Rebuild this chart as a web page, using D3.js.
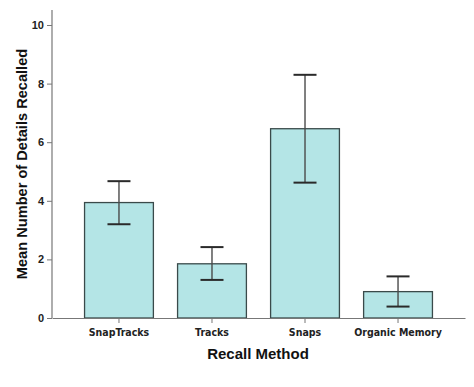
<!DOCTYPE html>
<html>
<head>
<meta charset="utf-8">
<script src="https://cdn.jsdelivr.net/npm/d3@7"></script>
<style>
body { margin: 0; background: #fff; }
text { font-family: "Liberation Sans", Arial, sans-serif; }
</style>
</head>
<body>
<script>
const methods = ["SnapTracks", "Tracks", "Snaps", "Organic Memory"]
const means = [3.94, 1.85, 6.46, 0.9]
const errLow = [3.2, 1.3, 4.62, 0.39]
const errHigh = [4.67, 2.42, 8.3, 1.42]
const yTicks = [0, 2, 4, 6, 8, 10]

const w = 474
const h = 387
const padL = 52, padR = 465, padT = 10, padB = 318

const svg = d3.select("body").append("svg").attr("width", w).attr("height", h)

const x = d3.scaleBand().domain(methods).range([padL, padR]).paddingInner(0.26).paddingOuter(0.35)
const y = d3.scaleLinear().domain([0, 10]).range([padB, 25])

const data = methods.map((m, i) => ({m: m, v: means[i], lo: errLow[i], hi: errHigh[i]}))

// bars
svg.selectAll("rect.bar").data(data).enter().append("rect").attr("class", "bar")
  .attr("x", d => x(d.m)).attr("y", d => y(d.v))
  .attr("width", x.bandwidth()).attr("height", d => y(0) - y(d.v))
  .attr("fill", "#b4e5e6").attr("stroke", "#3a4a4a").attr("stroke-width", 1.3)

// error bars
const eb = svg.selectAll("g.err").data(data).enter().append("g").attr("class", "err")
  .attr("transform", d => "translate(" + (x(d.m) + x.bandwidth() / 2) + ",0)")
eb.append("line").attr("x1", 0).attr("x2", 0).attr("y1", d => y(d.hi)).attr("y2", d => y(d.lo))
  .attr("stroke", "#4a4a4a").attr("stroke-width", 1.4)
eb.append("line").attr("x1", -11.5).attr("x2", 11.5).attr("y1", d => y(d.hi)).attr("y2", d => y(d.hi))
  .attr("stroke", "#2a2a2a").attr("stroke-width", 2)
eb.append("line").attr("x1", -11.5).attr("x2", 11.5).attr("y1", d => y(d.lo)).attr("y2", d => y(d.lo))
  .attr("stroke", "#2a2a2a").attr("stroke-width", 2)

// y axis
const ya = svg.append("g").attr("transform", "translate(" + padL + ",0)")
  .call(d3.axisLeft(y).tickValues(yTicks).tickSize(5).tickPadding(3))
ya.select(".domain").remove()
ya.append("line").attr("x1", 0).attr("x2", 0).attr("y1", padT).attr("y2", padB).attr("stroke", "#777").attr("stroke-width", 1.2)
ya.selectAll(".tick line").attr("stroke", "#777")
ya.selectAll(".tick text").attr("font-size", 11).attr("font-weight", "bold").attr("fill", "#222")
  .style("font-family", "'Liberation Sans', Arial, sans-serif")

// x axis
const xa = svg.append("g").attr("transform", "translate(0," + padB + ")")
  .call(d3.axisBottom(x).tickSize(5).tickPadding(6).tickSizeOuter(0))
xa.select(".domain").attr("stroke", "#777").attr("stroke-width", 1.2)
xa.selectAll(".tick line").attr("stroke", "#777")
xa.selectAll(".tick text").attr("font-size", 10.5).attr("font-weight", "bold").attr("fill", "#222")
  .style("font-family", "'DejaVu Sans Condensed', 'Liberation Sans', sans-serif")

// titles
svg.append("text").attr("x", 258).attr("y", 359).attr("text-anchor", "middle")
  .attr("font-size", 15).attr("font-weight", "bold").attr("fill", "#111").text("Recall Method")
svg.append("text").attr("transform", "translate(27,164) rotate(-90)").attr("text-anchor", "middle")
  .attr("font-size", 14.6).attr("font-weight", "bold").attr("fill", "#111").text("Mean Number of Details Recalled")
</script>
</body>
</html>
